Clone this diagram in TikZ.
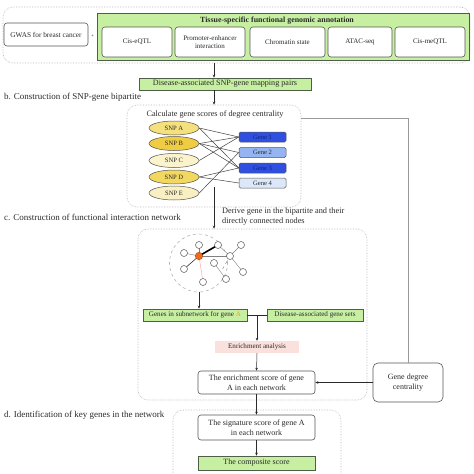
\documentclass[tikz,border=0pt]{standalone}
\usepackage{fontspec}
\setmainfont{Liberation Serif}
\usetikzlibrary{arrows.meta,shapes.geometric,calc}
\definecolor{lgreen}{HTML}{C6EFA2}
\definecolor{gborder}{HTML}{4E5E48}
\definecolor{bordergray}{HTML}{555555}
\definecolor{dotgray}{HTML}{B4B4B4}
\definecolor{txt}{HTML}{2A2A2A}
\definecolor{snpA}{HTML}{F4E07C}
\definecolor{snpB}{HTML}{F0CC42}
\definecolor{snpC}{HTML}{FBF3CC}
\definecolor{snpD}{HTML}{F2D85E}
\definecolor{snpE}{HTML}{F8EFC2}
\definecolor{gdark}{HTML}{2E4FE0}
\definecolor{gdtext}{HTML}{13237A}
\definecolor{glight}{HTML}{94B4F2}
\definecolor{gpale}{HTML}{DCE8FA}
\definecolor{pinkf}{HTML}{FBE1DD}
\definecolor{orangen}{HTML}{EE6A1E}
\definecolor{gA}{HTML}{E8A020}
\tikzset{
  every node/.style={text=txt},
  small/.style={font=\fontsize{7}{8}\selectfont},
  mid/.style={font=\fontsize{8.1}{9.3}\selectfont},
  head/.style={font=\fontsize{9}{10.5}\selectfont, anchor=west},
  rbox/.style={draw=bordergray, line width=0.6pt, rounded corners=3pt, fill=white, inner sep=0pt, align=center, small},
  gbox/.style={draw=gborder, line width=0.6pt, fill=lgreen, inner sep=0pt, align=center, small},
  dframe/.style={draw=dotgray, densely dotted, line width=0.6pt, rounded corners=10pt, inner sep=0pt},
  snp/.style={ellipse, draw=bordergray, line width=0.5pt, minimum width=50pt, minimum height=14pt, inner sep=0pt, font=\fontsize{6.6}{7.5}\selectfont},
  gene/.style={draw=bordergray, line width=0.5pt, rounded corners=1.5pt, minimum width=47pt, minimum height=10pt, inner sep=0pt, font=\fontsize{6.6}{7.5}\selectfont},
  nn/.style={circle, draw=bordergray, line width=0.5pt, fill=white, minimum size=7pt, inner sep=0pt},
  onode/.style={circle, draw=orangen!70!black, fill=orangen, minimum size=7.5pt, inner sep=0pt},
  arr/.style={draw=txt, line width=0.5pt, -{Stealth[length=3pt,width=2.6pt]}},
  ln/.style={draw=txt, line width=0.5pt},
  fb/.style={draw=gray!80, line width=0.8pt},
  edge/.style={draw=black!75, line width=0.5pt},
  nedge/.style={draw=gray, line width=0.4pt},
  twol/.style={font=\fontsize{8}{9.6}\selectfont},
}
\begin{document}
\begin{tikzpicture}[x=1pt,y=-1pt]
\useasboundingbox (0,0) rectangle (474,474);

% ---- a. top frame
\node[dframe, minimum width=467pt, minimum height=56pt] (topframe) at (236.5,35) {};
\node[rbox, minimum width=84pt, minimum height=23pt, font=\fontsize{7.3}{8.4}\selectfont] (gwas) at (46,34.5) {GWAS for breast cancer};
\node[font=\fontsize{5}{5}\selectfont, inner sep=0pt] (plus) at (92.5,36) {+};
\node[draw=gborder, line width=0.7pt, fill=lgreen, minimum width=372pt, minimum height=47pt, inner sep=0pt] (annot) at (283,36.5) {};
\node[font=\fontsize{7.9}{9}\selectfont\bfseries, inner sep=0pt] (annottitle) at (277,20.5) {Tissue-specific functional genomic annotation};
\node[rbox, minimum width=70pt, minimum height=30pt] (eqtl) at (137,42) {Cis-eQTL};
\node[rbox, minimum width=70pt, minimum height=30pt] (prom) at (210,42) {Promoter-enhancer\\interaction};
\node[rbox, minimum width=75pt, minimum height=30pt] (chrom) at (287.5,42) {Chromatin state};
\node[rbox, minimum width=64pt, minimum height=30pt] (atac) at (360,42) {ATAC-seq};
\node[rbox, minimum width=70pt, minimum height=30pt] (meqtl) at (430,42) {Cis-meQTL};

\node[gbox, mid, minimum width=172pt, minimum height=12pt] (pairs) at (225,84) {Disease-associated SNP-gene mapping pairs};

% ---- b. bipartite
\node[head] (labb) at (0.5,97) {b. Construction of SNP-gene bipartite};
\node[dframe, minimum width=174pt, minimum height=102pt] (bip) at (214,156) {};
\draw[arr] (topframe.south -| bip.north) -- (pairs.north -| bip.north);
\draw[arr] (pairs.south -| bip.north) -- (bip.north);
\node[font=\fontsize{8.2}{9.3}\selectfont, inner sep=0pt] (calc) at (215,114) {Calculate gene scores of degree centrality};

\node[snp, fill=snpA] (sA) at (174,128) {SNP A};
\node[snp, fill=snpB] (sB) at (174,143.5) {SNP B};
\node[snp, fill=snpC] (sC) at (174,160.5) {SNP C};
\node[snp, fill=snpD] (sD) at (174,177) {SNP D};
\node[snp, fill=snpE] (sE) at (174,193) {SNP E};
\node[gene, fill=gdark, text=gdtext] (g1) at (262.5,137) {Gene 1};
\node[gene, fill=glight] (g2) at (262.5,152.5) {Gene 2};
\node[gene, fill=gdark, text=gdtext] (g3) at (262.5,168) {Gene 3};
\node[gene, fill=gpale] (g4) at (262.5,183) {Gene 4};
\draw[edge] (sA.east) -- (g1.west);
\draw[edge] (sA.east) -- (g3.west);
\draw[edge] (sB.east) -- (g1.west);
\draw[edge] (sB.east) -- (g2.west);
\draw[edge] (sB.east) -- (g3.west);
\draw[edge] (sC.east) -- (g1.west);
\draw[edge] (sD.east) -- (g3.west);
\draw[edge] (sD.east) -- (g4.west);
\draw[edge] (sE.east) -- (g2.west);

\coordinate (fbc) at (408,118);
\coordinate (bipline) at (214,187);

% ---- c. network
\node[head] (labc) at (0.5,217) {c. Construction of functional interaction network};
\node[align=left, anchor=north west, inner sep=0pt, font=\fontsize{8.3}{10}\selectfont] (derive) at (222,208) {Derive gene in the bipartite and their\\directly connected nodes};
\node[dframe, minimum width=229pt, minimum height=171pt] (net) at (252.5,314.5) {};
\draw[arr] (bipline) -- (net.north -| bipline);

\node[circle, draw=gray!60, dashed, line width=0.6pt, minimum size=58pt, inner sep=0pt] (circ) at (198.5,263) {};
\coordinate (p0) at (199,256);
\coordinate (p1) at (184,253);
\coordinate (p2) at (199,245);
\coordinate (p3) at (218,245);
\coordinate (p4) at (241,245);
\coordinate (p5) at (230,256);
\coordinate (p6) at (214,263);
\coordinate (p7) at (184,269);
\coordinate (p8) at (243,272);
\coordinate (p9) at (226,279);
\coordinate (p10) at (203,282);
\draw[nedge] (p0) -- (p1);
\draw[nedge] (p0) -- (p2);
\draw[black, line width=1.6pt] (p0) -- (p3);
\draw[nedge] (p0) -- (p5);
\draw[black!80, line width=0.6pt] (p0) -- (p7);
\draw[red!40, line width=0.4pt] (p0) -- (p10);
\draw[nedge] (p3) -- (p5);
\draw[nedge] (p5) -- (p4);
\draw[nedge] (p5) -- (p8);
\draw[nedge] (p6) -- (p9);
\draw[gray, dashed, line width=0.4pt] (p5) -- (222,270);
\node[nn] (n1) at (p1) {};
\node[nn] (n2) at (p2) {};
\node[nn] (n3) at (p3) {};
\node[nn] (n4) at (p4) {};
\node[nn] (n5) at (p5) {};
\node[nn] (n6) at (p6) {};
\node[nn] (n7) at (p7) {};
\node[nn] (n8) at (p8) {};
\node[nn] (n9) at (p9) {};
\node[nn] (n10) at (p10) {};
\node[onode] (n0) at (p0) {};

\node[gbox, minimum width=104pt, minimum height=12pt, font=\fontsize{7.1}{8}\selectfont] (gsub) at (195,315) {Genes in subnetwork for gene {\color{gA}A}};
\node[gbox, minimum width=96pt, minimum height=12pt, font=\fontsize{7.1}{8}\selectfont] (dset) at (315,315) {Disease-associated gene sets};
\draw[arr] (circ.south -| n0) -- (gsub.north -| n0);
\draw[ln] (gsub.east) -- (dset.west);
\node[fill=pinkf, minimum width=84pt, minimum height=12pt, inner sep=0pt, font=\fontsize{7.1}{8}\selectfont] (enr) at (257,347) {Enrichment analysis};
\coordinate (junc) at (257,315);
\draw[arr] (junc) -- (enr.north);
\node[rbox, twol, minimum width=117pt, minimum height=23pt] (escore) at (256.5,382.5) {The enrichment score of gene\\A in each network};
\draw[arr] (enr.south) -- (escore.north);
\node[rbox, twol, minimum width=70pt, minimum height=39pt, rounded corners=5pt] (gdc) at (408,382.5) {Gene degree\\centrality};
\draw[fb] (bip.east |- fbc) -- (fbc) -- (gdc.north);
\draw[arr] (gdc.west) -- (escore.east);

% ---- d. key genes
\node[head] (labd) at (0.5,415) {d. Identification of key genes in the network};
\node[dframe, minimum width=168pt, minimum height=80pt] (dfr) at (257,450) {};
\node[rbox, twol, minimum width=117pt, minimum height=25pt] (sig) at (256.5,427.5) {The signature score of gene A\\in each network};
\node[gbox, twol, minimum width=117pt, minimum height=14pt] (comp) at (256.5,463) {The composite score};
\draw[arr] (escore.south) -- (sig.north);
\draw[arr] (sig.south) -- (comp.north);
\end{tikzpicture}
\end{document}
